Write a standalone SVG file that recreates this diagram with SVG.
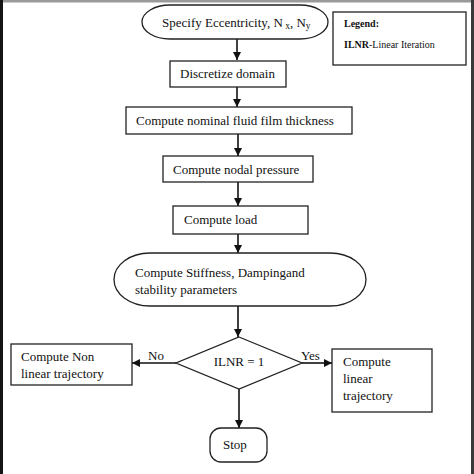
<svg xmlns="http://www.w3.org/2000/svg" width="474" height="474" viewBox="0 0 474 474">
<style>
text{font-family:"Liberation Serif","Times New Roman",serif;font-size:13px;fill:#111}
.s{fill:#fff;stroke:#222;stroke-width:1.3}
.c{stroke:#111;stroke-width:1.6;fill:none}
.sm{font-size:9.5px}
</style>
<defs>
<marker id="ah" viewBox="0 0 10 10" refX="10" refY="5" markerWidth="8" markerHeight="8" markerUnits="userSpaceOnUse" orient="auto">
<path d="M0,0 L10,5 L0,10 z" fill="#111"/>
</marker>
</defs>
<rect x="0" y="0" width="474" height="474" fill="#fff"/>
<rect x="0" y="0" width="474" height="2.5" fill="#9a9a9a"/>
<rect x="0" y="0" width="3" height="474" fill="#151515"/>
<rect x="471" y="0" width="3" height="474" fill="#3a3a3a"/>

<g id="connectors">
<line class="c" x1="237" y1="39" x2="237" y2="60" marker-end="url(#ah)"/>
<line class="c" x1="237" y1="87" x2="237" y2="107" marker-end="url(#ah)"/>
<line class="c" x1="238" y1="134" x2="238" y2="156" marker-end="url(#ah)"/>
<line class="c" x1="238" y1="182" x2="238" y2="206" marker-end="url(#ah)"/>
<line class="c" x1="238" y1="234" x2="238" y2="253" marker-end="url(#ah)"/>
<line class="c" x1="238" y1="306" x2="238" y2="337" marker-end="url(#ah)"/>
<line class="c" x1="176" y1="363" x2="132" y2="363" marker-end="url(#ah)"/>
<line class="c" x1="302" y1="363" x2="332" y2="363" marker-end="url(#ah)"/>
<line class="c" x1="239" y1="389" x2="239" y2="428" marker-end="url(#ah)"/>
<text x="148" y="360">No</text>
<text x="301" y="360">Yes</text>
</g>

<g id="start">
<rect class="s" x="142" y="5" width="186" height="34" rx="28" ry="17"/>
<text x="162" y="27">Specify Eccentricity, N<tspan class="sm" dy="2"> x</tspan><tspan dy="-2">, N</tspan><tspan class="sm" dy="2">y</tspan></text>
</g>

<g id="legend">
<rect class="s" x="333" y="12" width="133" height="53"/>
<text x="344" y="27" style="font-size:10px;font-weight:bold">Legend:</text>
<text x="344" y="48" style="font-size:10px"><tspan font-weight="bold">ILNR</tspan>-Linear Iteration</text>
</g>

<g id="discretize">
<rect class="s" x="170" y="61" width="116" height="26"/>
<text x="180" y="78">Discretize domain</text>
</g>

<g id="film">
<rect class="s" x="126" y="107" width="226" height="27"/>
<text x="136" y="125">Compute nominal fluid film thickness</text>
</g>

<g id="pressure">
<rect class="s" x="163" y="156" width="150" height="26"/>
<text x="173" y="174">Compute nodal pressure</text>
</g>

<g id="load">
<rect class="s" x="173" y="206" width="135" height="28"/>
<text x="184" y="224">Compute load</text>
</g>

<g id="stiffness">
<rect class="s" x="114" y="253" width="252" height="53" rx="36" ry="26.5"/>
<text x="135" y="277">Compute Stiffness, Dampingand</text>
<text x="135" y="294">stability parameters</text>
</g>

<g id="decision">
<polygon class="s" points="239,337 302,363 239,389 176,363"/>
<text x="239" y="366" text-anchor="middle">ILNR = 1</text>
</g>

<g id="nonlinear">
<rect class="s" x="11" y="344" width="121" height="41"/>
<text x="21" y="361">Compute Non</text>
<text x="21" y="378">linear trajectory</text>
</g>

<g id="linear">
<rect class="s" x="332" y="349" width="100" height="63"/>
<text x="343" y="366">Compute</text>
<text x="343" y="383">linear</text>
<text x="343" y="400">trajectory</text>
</g>

<g id="stop">
<rect class="s" x="210" y="428" width="57" height="34" rx="11" ry="11"/>
<text x="223" y="449">Stop</text>
</g>
</svg>
